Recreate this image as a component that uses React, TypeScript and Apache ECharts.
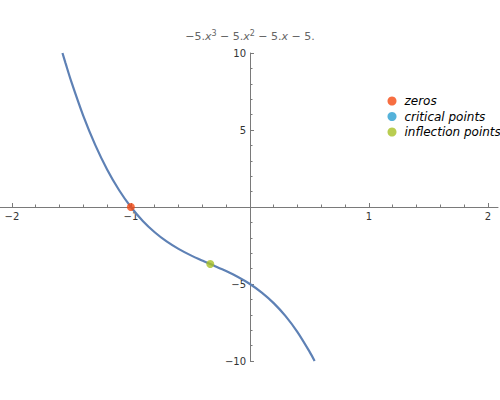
import { useEffect, useRef } from "react"
import * as echarts from "echarts"

const curveX = [-1.575, -1.55, -1.5, -1.4, -1.3, -1.2, -1.1, -1.0, -0.9, -0.8, -0.7, -0.6, -0.5, -0.4, -0.3, -0.2, -0.1, 0, 0.1, 0.2, 0.3, 0.4, 0.5, 0.544]
const curveY = [10.0, 9.36, 8.125, 5.92, 4.035, 2.44, 1.105, 0, -0.905, -1.64, -2.235, -2.72, -3.125, -3.48, -3.815, -4.16, -4.545, -5, -5.555, -6.24, -7.085, -8.12, -9.375, -10.0]

const zeros = [[-1, 0]]
const criticalPoints: number[][] = []
const inflectionPoints = [[-0.333, -3.704]]

const xMajorTicks = [-2, -1, 1, 2]
const xMinorTicks = [-2, -1.8, -1.6, -1.4, -1.2, -1, -0.8, -0.6, -0.4, -0.2, 0.2, 0.4, 0.6, 0.8, 1, 1.2, 1.4, 1.6, 1.8, 2]

const legendNames = ["zeros", "critical points", "inflection points"]
const FONT = "DejaVu Sans"
const AXIS_COLOR = "#7a7a7a"

// axes cross at the origin: offsets move them from the grid edge to zero
const X_AXIS_OFFSET = -154
const Y_AXIS_OFFSET = -250

const minus = (v: number) => String(v).replace("-", "\u2212")

export default function App() {
  const chartRef = useRef<HTMLDivElement>(null)

  useEffect(() => {
    if (!chartRef.current) return
    const chart = echarts.init(chartRef.current, undefined, { renderer: "svg" })

    const xBase = {
      type: "value" as const,
      min: -2.1,
      max: 2.085,
      position: "bottom" as const,
      offset: X_AXIS_OFFSET,
      splitLine: { show: false },
    }

    const titleText = { color: "#666", fontFamily: FONT, fontWeight: "normal" as const, lineHeight: 14 }

    const option: echarts.EChartsOption = {
      animation: false,
      textStyle: { fontFamily: FONT },
      title: {
        left: "center",
        top: 29,
        padding: 0,
        text: "{n|\u22125.}{x|x}{s|3}{n| \u2212 5.}{x|x}{s|2}{n| \u2212 5.}{x|x}{n| \u2212 5.}",
        textStyle: {
          fontWeight: "normal",
          rich: {
            n: { ...titleText, fontSize: 11 },
            x: { ...titleText, fontSize: 11, fontStyle: "italic" },
            s: { ...titleText, fontSize: 8, verticalAlign: "top" },
          },
        },
      },
      legend: {
        data: legendNames,
        orient: "vertical",
        left: 387.5,
        top: 94,
        width: 150,
        padding: 0,
        icon: "circle",
        itemWidth: 9,
        itemHeight: 9,
        itemGap: 1.5,
        textStyle: {
          fontFamily: FONT,
          fontSize: 12,
          fontStyle: "italic",
          color: "#000",
          lineHeight: 14,
          padding: [0, 0, 0, 3],
          overflow: "none",
        },
      },
      grid: { left: 0, right: 2, top: 53, bottom: 39, outerBoundsMode: "none", containLabel: false } as any,
      xAxis: [
        {
          ...xBase,
          axisLine: { onZero: false, lineStyle: { color: AXIS_COLOR, width: 1 } },
          axisTick: { customValues: xMajorTicks, inside: true, length: 4, lineStyle: { color: AXIS_COLOR } },
          axisLabel: {
            customValues: xMajorTicks,
            formatter: (v: number) => minus(v),
            fontSize: 10,
            color: "#333",
            margin: 4,
          },
        },
        {
          ...xBase,
          axisLine: { show: false, onZero: false },
          axisTick: { customValues: xMinorTicks, inside: true, length: 2.5, lineStyle: { color: AXIS_COLOR } },
          axisLabel: { show: false },
        },
      ],
      yAxis: {
        type: "value",
        min: -10,
        max: 10,
        interval: 5,
        position: "left",
        offset: Y_AXIS_OFFSET,
        splitLine: { show: false },
        axisLine: { show: true, onZero: false, lineStyle: { color: AXIS_COLOR, width: 1 } },
        axisTick: { show: true, inside: true, length: 4, lineStyle: { color: AXIS_COLOR } },
        minorTick: { show: true, splitNumber: 5, length: 2.5, lineStyle: { color: AXIS_COLOR } },
        axisLabel: {
          formatter: (v: number) => (v === 0 ? "" : minus(v)),
          fontSize: 10,
          color: "#333",
          margin: 4,
        },
      },
      series: [
        {
          name: "curve",
          type: "line",
          data: curveX.map((x, i) => [x, curveY[i]]),
          smooth: 0.3,
          symbol: "none",
          lineStyle: { color: "#5e81b5", width: 2.2 },
          z: 2,
        },
        {
          name: "zeros",
          type: "scatter",
          data: zeros,
          symbolSize: 8,
          itemStyle: { color: "#f54a12" },
          z: 3,
        },
        {
          name: "critical points",
          type: "scatter",
          data: criticalPoints,
          symbolSize: 8,
          itemStyle: { color: "#2b9fd1" },
          z: 3,
        },
        {
          name: "inflection points",
          type: "scatter",
          data: inflectionPoints,
          symbolSize: 8,
          itemStyle: { color: "#a8c026" },
          z: 3,
        },
      ],
    }

    chart.setOption(option)
    return () => chart.dispose()
  }, [])

  return <div ref={chartRef} style={{ position: "absolute", left: 0, top: 0, width: 500, height: 400 }} />
}
